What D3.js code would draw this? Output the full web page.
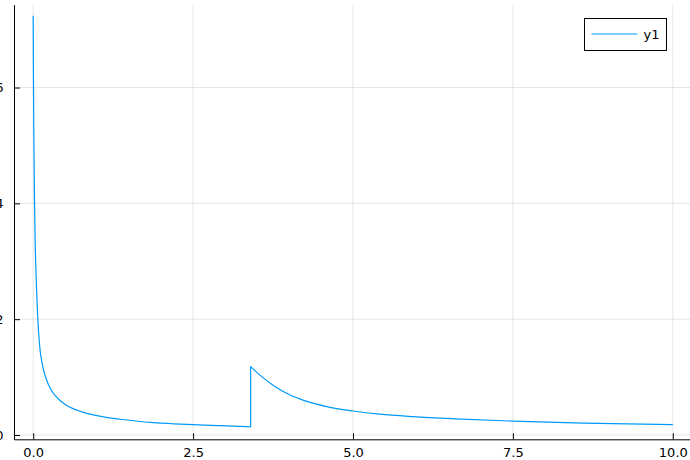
<!DOCTYPE html>
<html>
<head>
<meta charset="utf-8">
<script src="https://cdn.jsdelivr.net/npm/d3@7"></script>
<style>
  html, body { margin: 0; padding: 0; background: #fff; }
  svg { display: block; font-family: "DejaVu Sans", sans-serif; }
</style>
</head>
<body>
<div id="chart"></div>
<script>
const width = 690, height = 460;

// series y1: before and after the jump at t = 3.4
const tBefore = [0, 0.005, 0.01, 0.02, 0.03, 0.05, 0.07, 0.1, 0.15, 0.2, 0.27, 0.35, 0.42,
  0.5, 0.63, 0.75, 0.94, 1.1, 1.36, 1.6, 1.88, 2.2, 2.5, 2.9, 3.4];
const yBefore = [7.24, 6.0, 5.2, 4.1, 3.4, 2.6, 2.05, 1.55, 1.18, 0.98, 0.8, 0.675, 0.595,
  0.528, 0.452, 0.405, 0.348, 0.312, 0.272, 0.242, 0.214, 0.193, 0.178, 0.163, 0.143];
const tAfter = [3.4, 3.55, 3.75, 4.0, 4.28, 4.59, 5.0, 5.42, 5.94, 6.6, 7.5, 8.6, 10];
const yAfter = [1.18, 1.03, 0.86, 0.70, 0.58, 0.49, 0.415, 0.36, 0.318, 0.28, 0.24, 0.205, 0.178];

const xTicks = [0, 2.5, 5, 7.5, 10];
const yTicks = [0, 2, 4, 6];
const seriesName = "y1";
const lineColor = "#009afa";

const plot = { left: 14, right: 692, top: 4.7, bottom: 439.3 };

const x = d3.scaleLinear().domain([-0.3, 10.3]).range([plot.left, plot.right]);
const y = d3.scaleLinear().domain([-0.074, 7.43]).range([plot.bottom, plot.top]);

const svg = d3.select("#chart")
  .append("svg")
  .attr("width", width)
  .attr("height", height)
  .attr("viewBox", `0 0 ${width} ${height}`);

// grid
svg.append("g")
  .selectAll("line")
  .data(xTicks)
  .join("line")
    .attr("x1", d => x(d)).attr("x2", d => x(d))
    .attr("y1", plot.top).attr("y2", plot.bottom)
    .attr("stroke", "#000").attr("stroke-opacity", 0.1).attr("stroke-width", 1);

svg.append("g")
  .selectAll("line")
  .data(yTicks)
  .join("line")
    .attr("x1", plot.left).attr("x2", plot.right)
    .attr("y1", d => y(d)).attr("y2", d => y(d))
    .attr("stroke", "#000").attr("stroke-opacity", 0.1).attr("stroke-width", 1);

// axes (ticks point inward, like Plots.jl)
const xAxis = svg.append("g")
  .attr("transform", `translate(0,${plot.bottom})`)
  .call(d3.axisBottom(x).tickValues(xTicks).tickFormat(d3.format(".1f")).tickSizeInner(-6).tickSizeOuter(0).tickPadding(8.5));

const yAxis = svg.append("g")
  .attr("transform", `translate(${plot.left},0)`)
  .call(d3.axisLeft(y).tickValues(yTicks).tickFormat(d3.format("d")).tickSizeInner(-6).tickSizeOuter(0).tickPadding(10.5));

[xAxis, yAxis].forEach(a => {
  a.select(".domain").attr("stroke", "#000").attr("stroke-width", 1);
  a.selectAll(".tick line").attr("stroke", "#000").attr("stroke-width", 1);
  a.selectAll(".tick text")
    .attr("fill", "#000")
    .style("font-family", "DejaVu Sans, sans-serif")
    .style("font-size", "13px");
});

// series
const before = tBefore.map((t, i) => [t, yBefore[i]]);
const after = tAfter.map((t, i) => [t, yAfter[i]]);

const line = d3.line()
  .x(d => x(d[0]))
  .y(d => y(d[1]))
  .curve(d3.curveMonotoneX);

svg.append("path")
  .attr("d", line(before) + line(after).replace(/^M/, "L"))
  .attr("fill", "none")
  .attr("stroke", lineColor)
  .attr("stroke-width", 1.2)
  .attr("stroke-linejoin", "round");

// legend
const legend = svg.append("g").attr("transform", "translate(584.5,18.5)");
legend.append("rect")
  .attr("width", 82).attr("height", 32)
  .attr("fill", "#fff").attr("stroke", "#000").attr("stroke-width", 1);
legend.append("line")
  .attr("x1", 7).attr("x2", 53).attr("y1", 15.5).attr("y2", 15.5)
  .attr("stroke", lineColor).attr("stroke-width", 1.2);
legend.append("text")
  .attr("x", 59).attr("y", 20)
  .attr("font-size", "13px")
  .attr("fill", "#000")
  .text(seriesName);
</script>
</body>
</html>
